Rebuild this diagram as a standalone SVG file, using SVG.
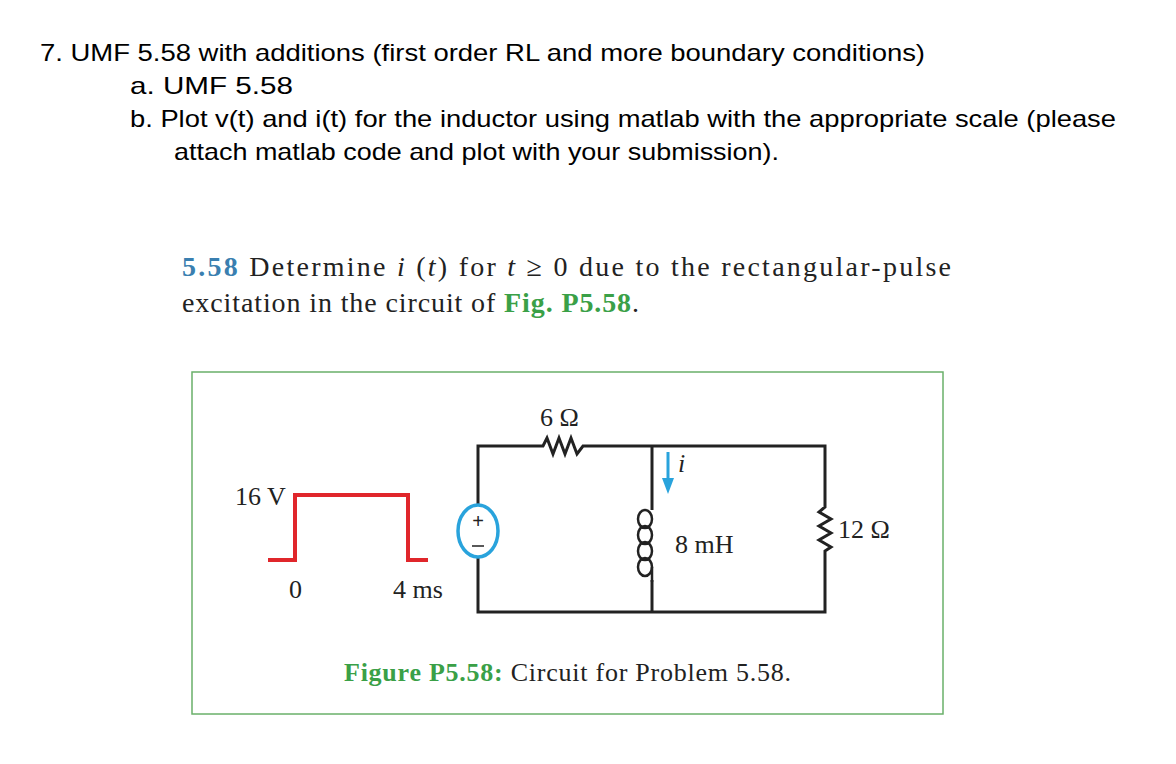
<svg xmlns="http://www.w3.org/2000/svg" width="1176" height="764" viewBox="0 0 1176 764">
<style>
.s{font-family:"Liberation Sans",Arial,sans-serif;font-size:24px;fill:#000}
.t{font-family:"Liberation Serif","Times New Roman",serif;font-size:28px;fill:#222}
.c{font-family:"Liberation Serif","Times New Roman",serif;font-size:26px;fill:#222}
.w{fill:none;stroke:#222;stroke-width:3}
</style>
<rect width="1176" height="764" fill="#fff"/>
<g id="question">
<text class="s" x="40" y="61" textLength="885" lengthAdjust="spacingAndGlyphs">7.  UMF 5.58 with additions (first order RL and more boundary conditions)</text>
<text class="s" x="130" y="94" textLength="163" lengthAdjust="spacingAndGlyphs">a.  UMF 5.58</text>
<text class="s" x="130" y="127" textLength="986" lengthAdjust="spacingAndGlyphs">b.  Plot v(t) and i(t) for the inductor using matlab with the appropriate scale (please</text>
<text class="s" x="174" y="160" textLength="605" lengthAdjust="spacingAndGlyphs">attach matlab code and plot with your submission).</text>
</g>
<g id="problem">
<text class="t" x="182" y="276" textLength="769" lengthAdjust="spacing"><tspan fill="#3a7fb0" font-weight="bold">5.58</tspan>   Determine <tspan font-style="italic">i</tspan> (<tspan font-style="italic">t</tspan>)  for  <tspan font-style="italic">t</tspan> ≥ 0  due  to  the  rectangular-pulse</text>
<text class="t" x="182" y="312" textLength="457" lengthAdjust="spacing">excitation in the circuit of <tspan fill="#3aa047" font-weight="bold">Fig. P5.58</tspan>.</text>
</g>
<rect id="frame" x="192" y="372" width="751" height="342" fill="none" stroke="#6ab06a" stroke-width="1.5"/>
<g id="pulse">
<polyline points="268,560 295,560 295,495 408,495 408,560 428,560" fill="none" stroke="#e0262b" stroke-width="4"/>
<text class="c" x="235" y="505">16 V</text>
<text class="c" x="289" y="598">0</text>
<text class="c" x="393" y="598">4 ms</text>
</g>
<g id="wires">
<polyline class="w" points="478,505 478,446 538,446"/>
<polyline class="w" points="590,446 825,446 825,503"/>
<polyline class="w" points="478,557 478,612 825,612 825,555"/>
<line class="w" x1="652" y1="446" x2="652" y2="510"/>
<line class="w" x1="652" y1="580" x2="652" y2="612"/>
</g>
<g id="r6">
<polyline class="w" points="538,446 543,446 547,438 553,454 559,438 565,454 571,438 577,454 583,446 590,446" stroke-width="2.5"/>
<text class="c" x="540" y="426">6 Ω</text>
</g>
<g id="source">
<ellipse cx="478" cy="531" rx="20" ry="26" fill="#fff" stroke="#29a3dc" stroke-width="3.5"/>
<text x="478" y="528" font-family="Liberation Sans,sans-serif" font-size="20" text-anchor="middle" fill="#222">+</text>
<line x1="472" y1="546" x2="484" y2="546" stroke="#222" stroke-width="1.5"/>
</g>
<g id="inductor" fill="none" stroke="#222" stroke-width="2.5">
<ellipse cx="645" cy="519" rx="7" ry="9"/>
<ellipse cx="645" cy="535" rx="7" ry="9"/>
<ellipse cx="645" cy="551" rx="7" ry="9"/>
<ellipse cx="645" cy="567" rx="7" ry="9"/>
<line x1="652" y1="567" x2="652" y2="582"/>
<text class="c" x="675" y="553" stroke="none">8 mH</text>
<line x1="668" y1="452" x2="668" y2="480" stroke="#29a3dc" stroke-width="3"/>
<polygon points="662,478 674,478 668,494" fill="#29a3dc" stroke="none"/>
<text class="c" x="678" y="472" font-style="italic" stroke="none">i</text>
</g>
<g id="r12">
<polyline class="w" points="825,503 825,507 819,512 831,519 819,526 831,533 819,540 831,547 825,551 825,555" stroke-width="2.5"/>
<text class="c" x="838" y="538">12 Ω</text>
</g>
<text id="caption" class="c" x="344" y="681" textLength="447" lengthAdjust="spacing"><tspan fill="#3aa047" font-weight="bold">Figure P5.58:</tspan> Circuit for Problem 5.58.</text>
</svg>
